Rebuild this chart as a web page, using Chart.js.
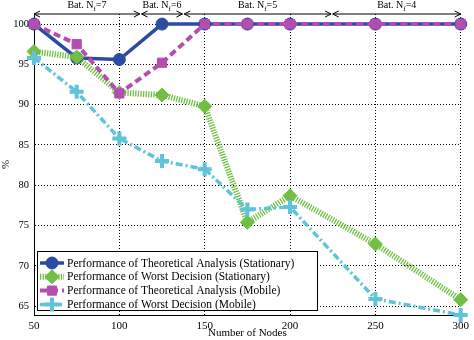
<!DOCTYPE html>
<html>
<head>
<meta charset="utf-8">
<script src="https://cdn.jsdelivr.net/npm/chart.js@4"></script>
<style>
body { margin: 0; background: #fff; }
#wrap { width: 474px; height: 340px; }
</style>
</head>
<body>
<div id="wrap"><canvas id="myChart"></canvas></div>
<script>
const nodes = [50, 75, 100, 125, 150, 175, 200, 250, 300];
const theoStationary = [100, 95.8, 95.6, 100, 100, 100, 100, 100, 100];
const worstStationary = [96.6, 95.9, 91.5, 91.2, 89.8, 75.4, 78.7, 72.7, 65.8];
const theoMobile = [100, 97.5, 91.4, 95.2, 100, 100, 100, 100, 100];
const worstMobile = [95.8, 91.6, 85.8, 83.0, 82.0, 77.0, 77.3, 65.9, 63.9];
const xTicks = [50, 100, 150, 200, 250, 300];
const yTicks = [65, 70, 75, 80, 85, 90, 95, 100];
const batRanges = [[50, 112], [113, 137], [138, 224], [225, 300]];
const batLabels = ['=7', '=6', '=5', '=4'];
const seriesNames = [
  'Performance of Theoretical Analysis (Stationary)',
  'Performance of Worst Decision (Stationary)',
  'Performance of Theoretical Analysis (Mobile)',
  'Performance of Worst Decision (Mobile)'
];

const FONT = '"Liberation Serif", "DejaVu Serif", serif';

function pts(vals) {
  return nodes.map((n, i) => ({x: n, y: vals[i]}));
}

const datasets = [
  {
    label: seriesNames[0], data: pts(theoStationary), order: 3,
    borderColor: '#2c4ca2', backgroundColor: '#2c4ca2', borderWidth: 3.5,
    pointStyle: 'circle', pointRadius: 6, pointBorderWidth: 1
  },
  {
    label: seriesNames[1], data: pts(worstStationary), order: 2,
    borderColor: '#70bf43', backgroundColor: '#70bf43', borderWidth: 6, borderDash: [1.3, 1.3],
    pointStyle: 'rectRot', pointRadius: 7, pointBorderWidth: 1
  },
  {
    label: seriesNames[2], data: pts(theoMobile), order: 1,
    borderColor: '#b54daf', backgroundColor: '#b54daf', borderWidth: 4, borderDash: [7, 4],
    pointStyle: 'rect', pointRadius: 6.5, pointBorderWidth: 1
  },
  {
    label: seriesNames[3], data: pts(worstMobile), order: 0,
    borderColor: '#5fc3da', backgroundColor: '#5fc3da', borderWidth: 3.5, borderDash: [7, 3, 2, 3],
    pointStyle: 'cross', pointRadius: 7, pointBorderWidth: 4
  }
];
datasets.forEach(d => { d.clip = false; d.tension = 0; d.fill = false; });

// arrows + "Bat. N_f" labels along the top
const batPlugin = {
  id: 'bat',
  afterDraw(chart) {
    const ctx = chart.ctx, xs = chart.scales.x, y = chart.chartArea.top;
    ctx.save();
    ctx.strokeStyle = '#000';
    ctx.lineWidth = 1;
    ctx.fillStyle = '#000';
    batRanges.forEach((r, i) => {
      const x1 = xs.getPixelForValue(r[0]), x2 = xs.getPixelForValue(r[1]);
      ctx.beginPath();
      ctx.moveTo(x1, y); ctx.lineTo(x2, y);
      ctx.moveTo(x1 + 6, y - 3); ctx.lineTo(x1, y); ctx.lineTo(x1 + 6, y + 3);
      ctx.moveTo(x2 - 6, y - 3); ctx.lineTo(x2, y); ctx.lineTo(x2 - 6, y + 3);
      ctx.stroke();
      // label
      const a = 'Bat. N', b = batLabels[i];
      ctx.font = '10px ' + FONT; const wa = ctx.measureText(a).width;
      ctx.font = '7px ' + FONT; const wf = ctx.measureText('f').width;
      ctx.font = '10px ' + FONT; const wb = ctx.measureText(b).width;
      let x = (x1 + x2) / 2 - (wa + wf + wb) / 2;
      const base = y - 6;
      ctx.textAlign = 'left';
      ctx.textBaseline = 'alphabetic';
      ctx.fillText(a, x, base); x += wa;
      ctx.font = '7px ' + FONT; ctx.fillText('f', x, base + 3); x += wf;
      ctx.font = '10px ' + FONT; ctx.fillText(b, x, base);
    });
    ctx.restore();
  }
};

// boxed legend inside the plot, lower left
const legendPlugin = {
  id: 'boxLegend',
  afterDraw(chart) {
    const ctx = chart.ctx;
    const bx = 37, by = 251, bw = 280, bh = 59;
    ctx.save();
    ctx.fillStyle = '#fff';
    ctx.fillRect(bx, by, bw, bh);
    ctx.strokeStyle = '#000';
    ctx.lineWidth = 1;
    ctx.strokeRect(bx + 0.5, by + 0.5, bw, bh);
    chart.data.datasets.forEach((d, i) => {
      const cy = by + 12 + i * 13.8;
      ctx.save();
      ctx.strokeStyle = d.borderColor;
      ctx.lineWidth = d.borderWidth;
      ctx.setLineDash(d.borderDash || []);
      ctx.beginPath();
      ctx.moveTo(bx + 3, cy); ctx.lineTo(bx + 27, cy);
      ctx.stroke();
      ctx.restore();
      ctx.fillStyle = d.backgroundColor;
      ctx.strokeStyle = d.borderColor;
      ctx.lineWidth = d.pointBorderWidth;
      Chart.helpers.drawPoint(ctx, {pointStyle: d.pointStyle, radius: d.pointRadius, rotation: 0, borderWidth: d.pointBorderWidth}, bx + 15, cy);
      ctx.fillStyle = '#000';
      ctx.font = '11.5px ' + FONT;
      ctx.textAlign = 'left';
      ctx.textBaseline = 'middle';
      ctx.fillText(d.label, bx + 30, cy + 0.5);
    });
    ctx.restore();
  }
};

const config = {
  type: 'line',
  data: { datasets: datasets },
  options: {
    responsive: true,
    maintainAspectRatio: false,
    animation: false,
    layout: { padding: { top: 14, right: 7, left: 0, bottom: 0 } },
    plugins: { legend: { display: false }, tooltip: { enabled: false } },
    scales: {
      x: {
        type: 'linear', min: 50, max: 300,
        afterBuildTicks: s => { s.ticks = xTicks.map(v => ({value: v})); },
        afterFit: s => { s.height = 25; },
        grid: { color: '#000', lineWidth: 1, drawTicks: false },
        border: { display: true, color: '#000', width: 1, dash: [1, 2] },
        ticks: { color: '#000', padding: 5, font: { family: FONT, size: 11 }, maxRotation: 0 },
        title: { display: true, text: 'Number of Nodes', color: '#000', padding: { top: 2, bottom: 0 }, font: { family: FONT, size: 11 } }
      },
      y: {
        type: 'linear', min: 63.9, max: 101.25,
        afterBuildTicks: s => { s.ticks = yTicks.map(v => ({value: v})); },
        afterFit: s => { s.width = 34; },
        grid: { color: '#000', lineWidth: 1, drawTicks: false },
        border: { display: true, color: '#000', width: 1, dash: [1, 2] },
        ticks: { color: '#000', padding: 5, font: { family: FONT, size: 10.5 } },
        title: { display: true, text: '%', color: '#000', padding: 0, font: { family: FONT, size: 11 } }
      }
    }
  },
  plugins: [batPlugin, legendPlugin]
};

const myChart = new Chart(document.getElementById('myChart'), config);
</script>
</body>
</html>
